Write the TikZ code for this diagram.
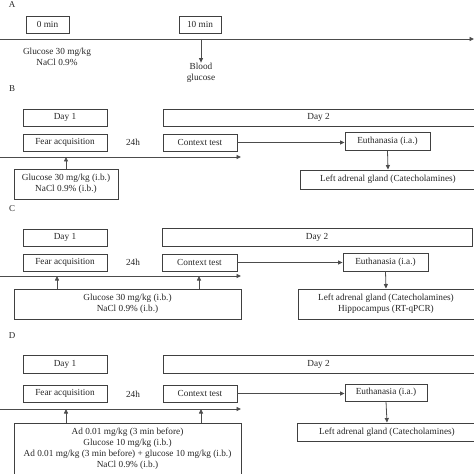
\documentclass[tikz,border=0pt]{standalone}
\usepackage{fontspec}
\setmainfont{Liberation Serif}
\usetikzlibrary{arrows.meta}
\begin{document}
\begin{tikzpicture}[x=1bp,y=-1bp,
  every node/.style={font=\fontsize{9.3}{11}\selectfont, text=black!85, inner sep=0pt, align=center},
  box/.style={draw=black!75, line width=0.9bp},
  tl/.style={draw=black!70, line width=0.9bp, -{Triangle[length=4.5bp,width=4bp]}},
  arr/.style={draw=black!70, line width=0.8bp, -{Triangle[length=4.5bp,width=4bp]}},
  lab/.style={font=\fontsize{9}{10}\selectfont}]
\useasboundingbox (0,0) rectangle (474,474);
\clip (0,0) rectangle (474,474);
% ---------- A ----------
\node[lab] (labA) at (12,5) {A};
\node[box, minimum width=43bp, minimum height=17bp] (a0) at (47.5,24.5) {0 min};
\node[box, minimum width=42bp, minimum height=17bp] (a10) at (200,24.5) {10 min};
\coordinate (aL) at (0,39);
\coordinate (aR) at (474,39);
\coordinate (aT) at (201,39);
\draw[tl] (aL) -- (aR);
\node (aG) at (57,57) {Glucose 30 mg/kg\\NaCl 0.9\%};
\node (aB) at (201,72.5) {Blood\\glucose};
\draw[arr] (aT) -- (aB.north);
% ---------- B ----------
\node[lab] (labB) at (12,89) {B};
\node[box, minimum width=84bp, minimum height=17bp] (b1) at (65,117.5) {Day 1};
\node[box, minimum width=84bp, minimum height=17bp] (bF) at (65,142.5) {Fear acquisition};
\node (b24) at (133,142) {24h};
\node[box, minimum width=74bp, minimum height=17bp] (bC) at (200,142.5) {Context test};
\node[box, minimum width=311bp, minimum height=17bp] (bD) at (318.5,117.5) {Day 2};
\node[box, minimum width=85bp, minimum height=18bp] (bE) at (387.5,141.5) {Euthanasia (i.a.)};
\node[box, minimum width=176bp, minimum height=19bp] (bL) at (388,179.5) {Left adrenal gland (Catecholamines)};
\node[box, minimum width=104bp, minimum height=30bp] (bG) at (66,184) {Glucose 30 mg/kg (i.b.)\\NaCl 0.9\% (i.b.)};
\coordinate (bTL) at (0,157);
\coordinate (bTR) at (241,157);
\coordinate (bT1) at (66,157);
\draw[tl] (bTL) -- (bTR);
\draw[arr] (bG.north) -- (bT1);
\draw[arr] (bC.east) -- (bC.east -| bE.west);
\draw[arr] (bE.south) -- (bL.north);
% ---------- C ----------
\node[lab] (labC) at (12,209) {C};
\node[box, minimum width=84bp, minimum height=17bp] (c1) at (65,237.5) {Day 1};
\node[box, minimum width=84bp, minimum height=17bp] (cF) at (65,262.5) {Fear acquisition};
\node (c24) at (133,262) {24h};
\node[box, minimum width=75bp, minimum height=17bp] (cC) at (199.5,262.5) {Context test};
\node[box, minimum width=310bp, minimum height=18bp] (cD) at (317,237) {Day 2};
\node[box, minimum width=85bp, minimum height=18bp] (cE) at (385.5,262) {Euthanasia (i.a.)};
\node[box, minimum width=176bp, minimum height=30bp] (cL) at (386,304) {Left adrenal gland (Catecholamines)\\Hippocampus (RT-qPCR)};
\node[box, minimum width=227bp, minimum height=30bp] (cG) at (127.5,304) {Glucose 30 mg/kg (i.b.)\\NaCl 0.9\% (i.b.)};
\coordinate (cTL) at (0,276);
\coordinate (cTR) at (241,276);
\coordinate (cT1) at (57,276);
\coordinate (cT2) at (199,276);
\draw[tl] (cTL) -- (cTR);
\draw[arr] (cG.north -| cT1) -- (cT1);
\draw[arr] (cG.north -| cT2) -- (cT2);
\draw[arr] (cC.east) -- (cC.east -| cE.west);
\draw[arr] (cE.south) -- (cL.north);
% ---------- D ----------
\node[lab] (labD) at (12,336) {D};
\node[box, minimum width=84bp, minimum height=18bp] (d1) at (65,364) {Day 1};
\node[box, minimum width=84bp, minimum height=17bp] (dF) at (65,393.5) {Fear acquisition};
\node (d24) at (133,394) {24h};
\node[box, minimum width=74bp, minimum height=17bp] (dC) at (200,393.5) {Context test};
\node[box, minimum width=311bp, minimum height=18bp] (dD) at (318.5,364) {Day 2};
\node[box, minimum width=82bp, minimum height=17bp] (dE) at (386,392.5) {Euthanasia (i.a.)};
\node[box, minimum width=180bp, minimum height=18bp] (dL) at (387,432) {Left adrenal gland (Catecholamines)};
\node[box, minimum width=227bp, minimum height=51bp] (dG) at (127.5,448.5) {Ad 0.01 mg/kg (3 min before)\\Glucose 10 mg/kg (i.b.)\\Ad 0.01 mg/kg (3 min before) + glucose 10 mg/kg (i.b.)\\NaCl 0.9\% (i.b.)};
\coordinate (dTL) at (0,409);
\coordinate (dTR) at (241,409);
\coordinate (dT1) at (66,409);
\coordinate (dT2) at (201,409);
\draw[tl] (dTL) -- (dTR);
\draw[arr] (dG.north -| dT1) -- (dT1);
\draw[arr] (dG.north -| dT2) -- (dT2);
\draw[arr] (dC.east) -- (dC.east -| dE.west);
\draw[arr] (dE.south) -- (dL.north);
\end{tikzpicture}
\end{document}
